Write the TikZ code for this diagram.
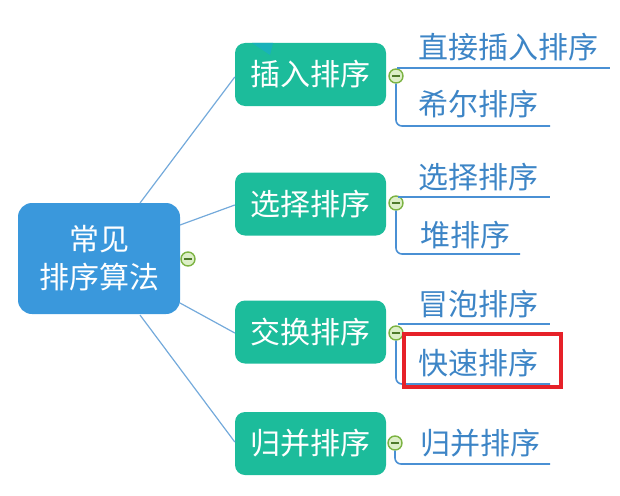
\documentclass[tikz,border=0pt]{standalone}
\usepackage{fontspec}
\newfontfamily\cjk{Noto Sans CJK SC}
\definecolor{rootblue}{HTML}{3A98DC}
\definecolor{catgreen}{HTML}{1CBC9B}
\definecolor{flagteal}{HTML}{19B2BA}
\definecolor{leafblue}{HTML}{3D85C6}
\definecolor{linkblue}{HTML}{74AADB}
\definecolor{ulblue}{HTML}{4A90D4}
\definecolor{knobgreen}{HTML}{7CB342}
\definecolor{knobfill}{HTML}{DDEFC8}
\definecolor{knobdark}{HTML}{4E7A2A}
\definecolor{hlred}{HTML}{E62129}
\begin{document}
\begin{tikzpicture}[x=1pt,y=-1pt,
  rootbox/.style={fill=rootblue, rounded corners=14pt, minimum width=162pt, minimum height=111pt,
    text=white, font=\cjk\fontsize{30}{38}\selectfont, align=center, inner sep=0pt},
  catbox/.style={fill=catgreen, rounded corners=10pt, minimum width=151pt, minimum height=63pt,
    text=white, font=\cjk\fontsize{30}{34}\selectfont, inner sep=0pt},
  leaftext/.style={text=leafblue, font=\cjk\fontsize{30}{32}\selectfont, inner sep=0pt},
  conn/.style={draw=linkblue, line width=1.2pt},
  uline/.style={draw=ulblue, line width=1.6pt, rounded corners=6pt},
  knob/.style={circle, draw=knobgreen, line width=1.4pt, fill=knobfill, minimum size=14pt, inner sep=0pt,
    path picture={\draw[knobdark, line width=1.6pt] ([xshift=3pt]path picture bounding box.west) -- ([xshift=-3pt]path picture bounding box.east);}},
  hlbox/.style={draw=hlred, line width=4pt, minimum width=156.5pt, minimum height=53pt, inner sep=0pt}
]
\useasboundingbox (0,0) rectangle (620,495);

% root
\node[rootbox] (root) at (99,258.5) {常见\\排序算法};
\node[knob] (k0) at (188,259) {};

% categories
\node[catbox] (c1) at (310.5,74.5) {插入排序};
\node[catbox] (c2) at (310.5,204) {选择排序};
\node[catbox] (c3) at (310.5,332) {交换排序};
\node[catbox] (c4) at (310.5,443.5) {归并排序};
\fill[flagteal] (252,43) -- (273,43) -- (270,55) -- cycle;

% connectors root -> categories
\coordinate (r1) at (140,203);
\coordinate (r2) at (180,225);
\coordinate (r3) at (180,303);
\coordinate (r4) at (140,315);
\draw[conn] (r1) -- (c1.west |- 0,77);
\draw[conn] (r2) -- (c2.west |- 0,205);
\draw[conn] (r3) -- (c3.west |- 0,333);
\draw[conn] (r4) -- (c4.west |- 0,442);

% knobs of categories
\node[knob] (k1) at (396,76) {};
\node[knob] (k2) at (396,203) {};
\node[knob] (k3) at (396,333) {};
\node[knob] (k4) at (395,443) {};

% group 1
\coordinate (a11) at (397,68);  \coordinate (e11) at (610,68);
\coordinate (e12) at (550,126);
\draw[uline] (a11) -- (e11);
\draw[uline] (k1.south) |- (e12);
\node[leaftext] (l11) at (508,47) {直接插入排序};
\node[leaftext] (l12) at (478,104) {希尔排序};

% group 2
\coordinate (a21) at (398,197); \coordinate (e21) at (550,197);
\coordinate (e22) at (520,254);
\draw[uline] (a21) -- (e21);
\draw[uline] (k2.south) |- (e22);
\node[leaftext] (l21) at (478,177) {选择排序};
\node[leaftext] (l22) at (465,235) {堆排序};

% group 3
\coordinate (a31) at (398,324); \coordinate (e31) at (550,324);
\coordinate (e32) at (550,384);
\draw[uline] (a31) -- (e31);
\draw[uline] (k3.south) |- (e32);
\node[leaftext] (l31) at (478,304) {冒泡排序};
\node[leaftext] (l32) at (478,363) {快速排序};

% group 4
\coordinate (e41) at (550,464);
\draw[uline] (k4.south) |- (e41);
\node[leaftext] (l41) at (480,443) {归并排序};

% highlight
\node[hlbox] (hl) at (482.7,360.5) {};
\end{tikzpicture}
\end{document}
